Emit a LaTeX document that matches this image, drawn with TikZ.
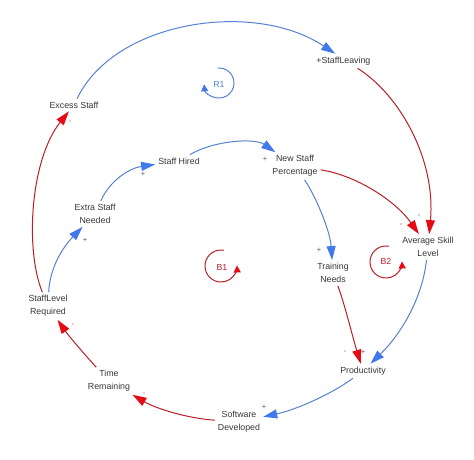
\documentclass[tikz,border=0pt]{standalone}
\usepackage{fontspec}
\setmainfont{Liberation Sans}
\usetikzlibrary{arrows.meta}
\definecolor{lblue}{RGB}{85,130,210}
\definecolor{tblue}{RGB}{65,120,235}
\definecolor{lred}{RGB}{185,30,40}
\definecolor{tred}{RGB}{230,10,20}
\definecolor{txt}{RGB}{55,55,55}
\definecolor{sgnb}{RGB}{80,90,130}
\definecolor{sgnr}{RGB}{200,50,60}
\begin{document}
\begin{tikzpicture}[x=1pt,y=-1pt,
 var/.style={font=\fontsize{8.8}{13}\selectfont, text=txt, align=center, inner sep=3pt},
 poslink/.style={-{Triangle[length=14pt,width=9pt,color=tblue]}, draw=lblue, line width=1pt},
 neglink/.style={-{Triangle[length=14pt,width=9pt,color=tred]}, draw=lred, line width=1pt},
 sgn/.style={font=\fontsize{7.5}{8}\selectfont, inner sep=0pt},
 loopb/.style={draw=lblue, line width=1pt, -{Triangle[length=7pt,width=7pt,color=tblue]}},
 loopr/.style={draw=lred, line width=1pt, -{Triangle[length=7pt,width=7pt,color=tred]}},
]
\useasboundingbox[fill=white] (0,0) rectangle (474,459);

% variables
\node[var] (SL)  at (346,61)  {StaffLeaving};
\node[var, inner sep=0pt] (SLp) at (319,61) {+};
\node[var] (ES)  at (74,105)  {Excess Staff};
\node[var] (SH)  at (179,161) {Staff Hired};
\node[var] (NSP) at (295,166) {New Staff\\Percentage};
\node[var] (ESN) at (95,214)  {Extra Staff\\Needed};
\node[var] (ASL) at (428,247) {Average Skill\\Level};
\node[var] (TN)  at (333,273) {Training\\Needs};
\node[var] (SLR) at (48,306)  {StaffLevel\\Required};
\node[var] (PR)  at (363,371) {Productivity};
\node[var] (TR)  at (109,381) {Time\\Remaining};
\node[var] (SD)  at (239,422) {Software\\Developed};

% connectors
\draw[poslink] (ES)  .. controls (115,20) and (255,0) .. (SL);
\draw[neglink] (SL)  .. controls (400,95) and (436,160) .. (ASL);
\draw[poslink] (SH)  .. controls (215,140) and (255,138) .. (NSP);
\draw[poslink] (ESN) .. controls (110,180) and (130,168) .. (SH);
\draw[poslink] (SLR) .. controls (50,265) and (65,245) .. (ESN);
\draw[neglink] (SLR) .. controls (25,250) and (30,160) .. (ES);
\draw[neglink] (NSP) .. controls (355,175) and (395,200) .. (ASL);
\draw[poslink] (NSP) .. controls (315,195) and (330,230) .. (TN);
\draw[neglink] (TN)  .. controls (345,305) and (352,335) .. (PR);
\draw[poslink] (ASL) .. controls (422,300) and (400,335) .. (PR);
\draw[poslink] (PR)  .. controls (330,395) and (295,410) .. (SD);
\draw[neglink] (SD)  .. controls (185,418) and (155,408) .. (TR);
\draw[neglink] (TR)  .. controls (85,355) and (68,335) .. (SLR);

% polarity signs
\node[sgn, text=sgnb] (s1) at (143,174) {+};
\node[sgn, text=sgnb] (s2) at (85,240) {+};
\node[sgn, text=sgnr] (s3) at (70,122) {-};
\node[sgn, text=sgnb] (s4) at (265,159) {+};
\node[sgn, text=sgnr] (s5) at (419,216) {-};
\node[sgn, text=sgnr] (s6) at (401,225) {-};
\node[sgn, text=sgnb] (s7) at (319,250) {+};
\node[sgn, text=sgnr] (s8) at (345,352) {-};
\node[sgn, text=sgnb] (s9) at (363,352) {+};
\node[sgn, text=sgnb] (s10) at (264,407) {+};
\node[sgn, text=sgnr] (s11) at (144,394) {-};
\node[sgn, text=sgnr] (s12) at (73,325) {-};

% loop markers
\draw[loopb] (219,83) ++(95:15pt) arc[start angle=95, end angle=-175, radius=15pt];
\node[var, text=lblue] (R1) at (219,84) {R1};
\draw[loopr] (221,266) ++(80:16pt) arc[start angle=80, end angle=362, radius=16pt];
\node[var, text=lred] (B1) at (222,267) {B1};
\draw[loopr] (386,262) ++(80:16pt) arc[start angle=80, end angle=362, radius=16pt];
\node[var, text=lred] (B2) at (386,261) {B2};
\end{tikzpicture}
\end{document}
